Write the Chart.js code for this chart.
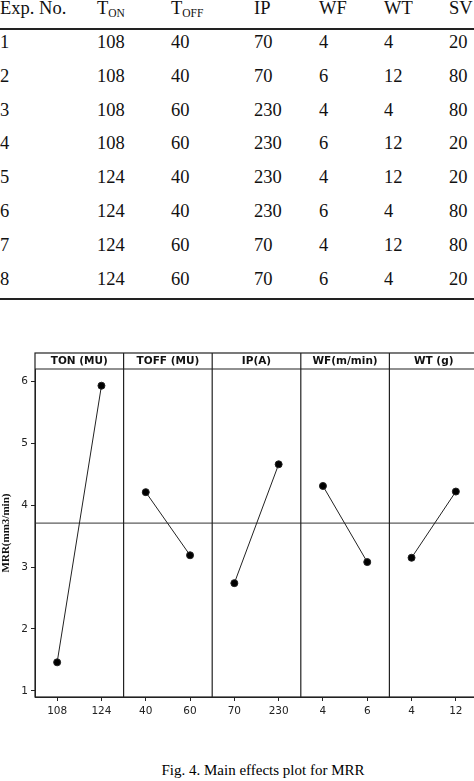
<!DOCTYPE html>
<html><head><meta charset="utf-8">
<script src="https://cdn.jsdelivr.net/npm/chart.js@4"></script>
<style>
html,body{margin:0;padding:0;width:474px;height:781px;overflow:hidden;background:#fff;font-family:"Liberation Serif","Times New Roman",serif;}
.t{position:absolute;font-size:18.5px;color:#111;white-space:nowrap;line-height:1;}
.t sub{font-size:11.5px;vertical-align:-3px;}
.rule{position:absolute;left:0;width:474px;height:1.5px;background:#222;}
#wrap{position:absolute;left:0;top:340px;width:490px;height:390px;}
#cap{position:absolute;top:762px;left:0;width:526px;text-align:center;font-size:15px;}
</style></head><body>
<div id="tbl"></div>
<div class="rule" style="top:28px"></div>
<div class="rule" style="top:298px"></div>
<div id="wrap"><canvas id="c" width="490" height="390"></canvas></div>
<div id="cap">Fig. 4. Main effects plot for MRR</div>
<script>
const headers = ["Exp. No.","T<sub>ON</sub>","T<sub>OFF</sub>","IP","WF","WT","SV"];
const tableRows = [
 ["1","108","40","70","4","4","20"],
 ["2","108","40","70","6","12","80"],
 ["3","108","60","230","4","4","80"],
 ["4","108","60","230","6","12","20"],
 ["5","124","40","230","4","12","20"],
 ["6","124","40","230","6","4","80"],
 ["7","124","60","70","4","12","80"],
 ["8","124","60","70","6","4","20"]
];
const factors = ["TON (MU)","TOFF (MU)","IP(A)","WF(m/min)","WT (g)"];
const levels = [["108","124"],["40","60"],["70","230"],["4","6"],["4","12"]];
const means = [[1.46,5.93],[4.21,3.19],[2.74,4.66],[4.31,3.08],[3.15,4.22]];
const grandMean = 3.71;
const yTicks = [1,2,3,4,5,6];

const colX=[0,97,171,254,319,384,449];
let html='';
headers.forEach((h,i)=>{html+=`<div class="t" style="left:${colX[i]}px;top:-1px">${h}</div>`;});
tableRows.forEach((r,ri)=>r.forEach((v,i)=>{html+=`<div class="t" style="left:${colX[i]}px;top:${33+ri*33.8}px">${v}</div>`;}));
document.getElementById('tbl').innerHTML=html;

const datasets = factors.map((f,i)=>({
  label:f,
  data:[{x:i+0.25,y:means[i][0]},{x:i+0.75,y:means[i][1]}],
  borderColor:'#222',backgroundColor:'#000',borderWidth:1,pointRadius:3.5,pointHoverRadius:3.5,showLine:true
}));
datasets.push({label:'mean',data:[{x:0,y:grandMean},{x:factors.length,y:grandMean}],borderColor:'#333',borderWidth:1,pointRadius:0,showLine:true});

const panels={id:'panels',afterDraw(ch){
  const c=ch.ctx,a=ch.chartArea,xs=ch.scales.x;
  c.save();c.strokeStyle='#222';c.lineWidth=1.2;
  const top=a.top-16;
  c.strokeRect(a.left,top,a.right-a.left,a.bottom-top);
  c.beginPath();c.moveTo(a.left,a.top);c.lineTo(a.right,a.top);c.stroke();
  for(let i=1;i<factors.length;i++){const x=xs.getPixelForValue(i);c.beginPath();c.moveTo(x,top);c.lineTo(x,a.bottom);c.stroke();}
  c.fillStyle='#111';c.font='bold 10.5px "DejaVu Sans"';c.textAlign='center';c.textBaseline='middle';
  factors.forEach((f,i)=>c.fillText(f,xs.getPixelForValue(i+0.5),top+8.5));
  c.restore();
}};

new Chart(document.getElementById('c'),{
  type:'scatter',data:{datasets},
  plugins:[panels],
  options:{responsive:false,animation:false,
    layout:{padding:{top:29,right:12,left:0,bottom:0}},
    plugins:{legend:{display:false},tooltip:{enabled:false}},
    scales:{
      x:{type:'linear',min:0,max:factors.length,
        afterBuildTicks(s){s.ticks=[];levels.forEach((l,i)=>{s.ticks.push({value:i+0.25},{value:i+0.75});});},
        afterFit(s){s.height=33;},
        ticks:{autoSkip:false,maxRotation:0,color:'#222',font:{family:'DejaVu Sans',size:10.5},padding:4,
          callback(v){const i=Math.floor(v);return levels[i][v-i<0.5?0:1];}},
        grid:{drawOnChartArea:false,tickLength:4,color:'#222'},border:{color:'#222'}},
      y:{min:0.9,max:6.2,
        afterBuildTicks(s){s.ticks=yTicks.map(v=>({value:v}));},
        afterFit(s){s.width=35;},
        ticks:{color:'#222',font:{family:'DejaVu Sans',size:10.5},padding:3},
        grid:{drawOnChartArea:false,tickLength:4,color:'#222'},border:{color:'#222'},
        title:{display:true,text:'MRR(mm3/min)',color:'#111',font:{family:'Liberation Serif',size:11,weight:'bold'},padding:0}}
    }}
});
</script></body></html>
